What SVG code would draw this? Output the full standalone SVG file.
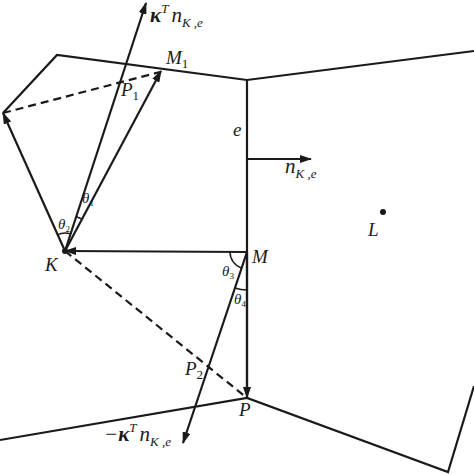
<svg xmlns="http://www.w3.org/2000/svg" width="474" height="474" viewBox="0 0 474 474">
<defs>
<marker id="ah" viewBox="0 0 12 8" refX="11" refY="4" markerWidth="12" markerHeight="8" markerUnits="userSpaceOnUse" orient="auto">
<path d="M0,0 L12,4 L0,8 Z" fill="#1a1a1a"/>
</marker>
</defs>
<style>
.e{stroke:#1a1a1a;stroke-width:2.2;fill:none}
.v{stroke:#1a1a1a;stroke-width:2.2;fill:none;marker-end:url(#ah)}
.d{stroke:#1a1a1a;stroke-width:2.2;fill:none;stroke-dasharray:8 5}
.a{stroke:#1a1a1a;stroke-width:1.5;fill:none}
text{font-family:"Liberation Serif","Times New Roman",serif;font-style:italic;fill:#1a1a1a;font-size:19px}
.s{font-size:13px}
.n{font-style:normal}
.b{font-weight:bold}
.big{font-size:21px}
.th{font-size:15px}
.ts{font-size:9px;font-style:normal}
</style>
<g id="mesh">
<path class="e" d="M3,113 L57,55 L247,80 L474,51"/>
<path class="e" d="M247,80 L247,398"/>
<path class="e" d="M0,440 L247,398 L448,472 L474,386"/>
</g>
<g id="connectors">
<path class="d" d="M3,113 L160,72"/>
<path class="d" d="M65,251 L247,398"/>
<path class="v" d="M65,251 L146,3"/>
<path class="v" d="M65,251 L161,71"/>
<path class="v" d="M65,251 L3,113"/>
<path class="v" d="M247,252 L65,251"/>
<path class="v" d="M247,252 L183,443"/>
<path class="v" d="M247,252 L247,398"/>
<path class="v" d="M248,159 L311,159"/>
<path class="a" d="M76.2,216.8 A36,36 0 0 1 81.9,219.2"/>
<path class="a" d="M57.6,234.6 A18,18 0 0 1 70.6,233.9"/>
<path class="a" d="M241.6,268.1 A17,17 0 0 1 230,252"/>
<path class="a" d="M247,290 A38,38 0 0 1 235,288"/>
</g>
<g id="K">
<circle cx="65" cy="251" r="3" fill="#1a1a1a"/>
<text x="45" y="271">K</text>
</g>
<g id="L">
<circle cx="383" cy="212" r="3" fill="#1a1a1a"/>
<text x="368" y="236">L</text>
</g>
<g id="M">
<text x="252" y="263">M</text>
</g>
<g id="M1">
<text x="166" y="64">M<tspan class="s n" dy="4">1</tspan></text>
</g>
<g id="P1">
<text x="121" y="96">P<tspan class="s n" dy="4">1</tspan></text>
</g>
<g id="P2">
<text x="185" y="375">P<tspan class="s n" dy="4">2</tspan></text>
</g>
<g id="P">
<text x="239" y="416">P</text>
</g>
<g id="e">
<text x="233" y="136">e</text>
</g>
<g id="nKe">
<text x="285" y="173" class="big">n<tspan class="s" dy="5">K ,e</tspan></text>
</g>
<g id="kappa">
<text x="150" y="22" class="big"><tspan class="b">κ</tspan><tspan class="s" dy="-9">T</tspan><tspan dx="3" dy="9">n</tspan><tspan class="s" dy="5">K ,e</tspan></text>
</g>
<g id="mkappa">
<text x="104" y="441" class="big">−<tspan class="b">κ</tspan><tspan class="s" dy="-9">T</tspan><tspan dx="3" dy="9">n</tspan><tspan class="s" dy="5">K ,e</tspan></text>
</g>
<g id="theta">
<text x="82" y="203" class="th">θ<tspan class="ts" dy="3">1</tspan></text>
<text x="58" y="229" class="th">θ<tspan class="ts" dy="3">2</tspan></text>
<text x="222" y="276" class="th">θ<tspan class="ts" dy="3">3</tspan></text>
<text x="234" y="304" class="th">θ<tspan class="ts" dy="3">4</tspan></text>
</g>
</svg>
